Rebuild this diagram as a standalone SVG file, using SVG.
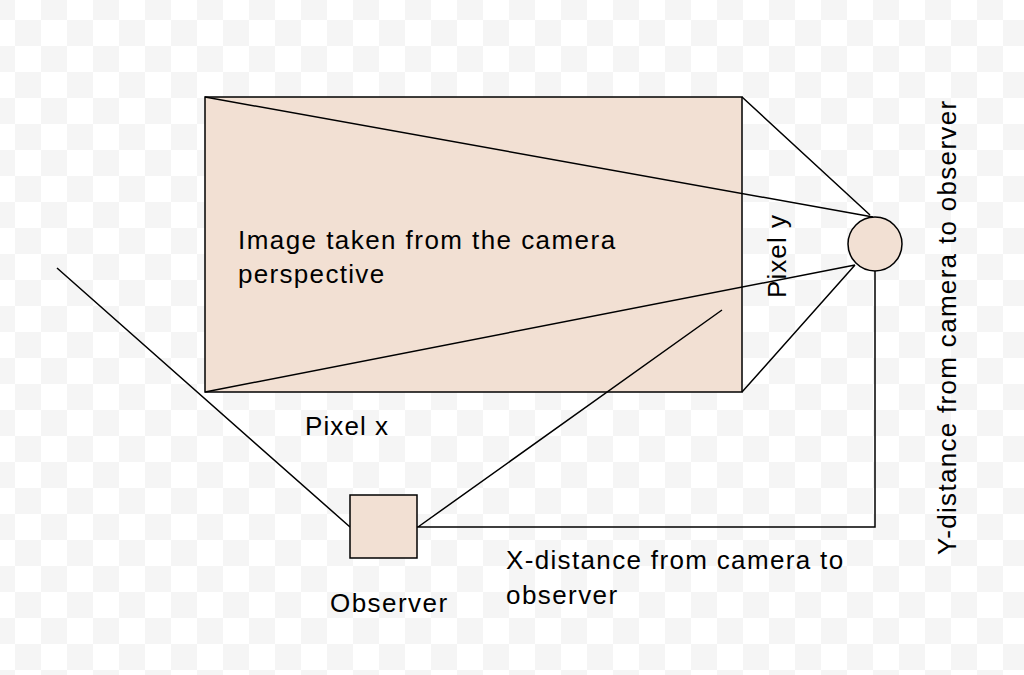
<svg xmlns="http://www.w3.org/2000/svg" width="1024" height="675" viewBox="0 0 1024 675">
<style>
.s{stroke:#000;stroke-width:1.5;fill:none}
.f{fill:#f2e0d3;stroke:#000;stroke-width:1.5}
text{font-family:"Liberation Sans",Arial,sans-serif;font-size:26px;letter-spacing:0.9px;fill:#000}
</style>
<defs><pattern id="ck" x="-11" y="-6" width="52" height="52" patternUnits="userSpaceOnUse"><rect width="52" height="52" fill="#fff"/><rect width="26" height="26" fill="#f5f5f5"/><rect x="26" y="26" width="26" height="26" fill="#f5f5f5"/></pattern></defs>
<rect width="1024" height="675" fill="url(#ck)"/>
<g id="image"><rect class="f" x="205" y="97" width="537" height="295"/>
<text x="238" y="249" textLength="378">Image taken from the camera</text><text x="238" y="283" textLength="147">perspective</text></g>
<g id="connectors">
<path class="s" d="M205 97L873 217M205 392L855 265M742 97L870 215M742 392L855 265M722 310L418 527M57 268L350 527M417 527H875V270"/>
</g>
<g id="camera"><circle class="f" cx="875" cy="244" r="27"/></g>
<g id="observer"><rect class="f" x="350" y="495" width="67" height="63"/><text x="330" y="612" textLength="118">Observer</text></g>
<text x="305" y="435" textLength="84">Pixel x</text>
<text transform="translate(786,298) rotate(-90)" textLength="84">Pixel y</text>
<text transform="translate(956,555) rotate(-90)" textLength="455">Y-distance from camera to observer</text>
<text x="506" y="569" textLength="338">X-distance from camera to</text><text x="506" y="604" textLength="112">observer</text>
</svg>
